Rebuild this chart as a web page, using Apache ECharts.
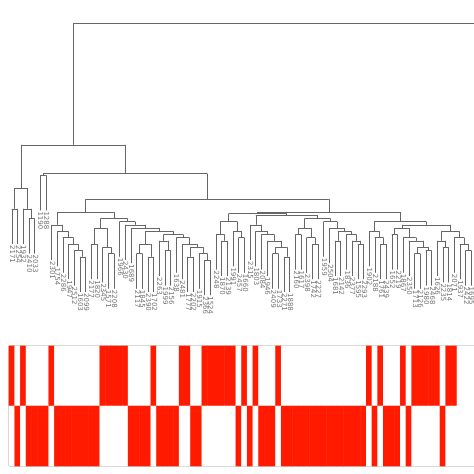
<!DOCTYPE html>
<html><head><meta charset="utf-8">
<script src="https://cdn.jsdelivr.net/npm/echarts@6/dist/echarts.min.js"></script>
<style>html,body{margin:0;padding:0;background:#fff}#c{width:474px;height:474px}</style>
</head><body><div id="c"></div>
<script>
// Binary heat strips (one value per leaf column)
const rowTop = [1,0,1,0,0,0,0,1,0,0,0,0,0,0,0,0,1,1,1,1,1,0,0,0,0,1,0,0,0,0,1,1,0,0,1,1,1,1,1,1,0,1,0,1,0,0,0,1,0,0,0,0,0,0,0,0,0,0,0,0,0,0,0,1,0,1,0,0,0,1,0,1,1,1,1,1,0,1,1,0,0,0];
const rowBottom = [0,1,0,1,1,1,1,0,1,1,1,1,1,1,1,1,0,0,0,0,0,1,1,1,1,0,1,1,1,1,0,0,1,1,0,0,0,0,0,0,1,0,1,0,1,1,1,0,1,1,1,1,1,1,1,1,1,1,1,1,1,1,1,0,1,0,1,1,1,0,1,0,0,0,0,0,1,0,0,0,0,0];
const leafNames = ["2171","2254","1932","2410","2033","1190","1288","2301","1754","2286","1947","2512","1603","2099","2177","1820","2345","1571","2208","1966","2430","1689","2117","1845","2390","1702","2263","1999","2156","1638","2481","1777","2202","1915","2366","1524","2248","1870","2139","1991","2457","1660","2315","1803","2084","1946","2409","1733","2271","1888","2160","1617","2398","1742","2227","1959","2504","1681","2142","1836","2377","1595","2293","1902","2188","1761","2439","1652","2219","1867","2350","1713","2126","1980","2468","1626","2235","1814","2071","1937","2422","1695"];
const L = 0;
const tree = [99,
  [61,
    [47.5,[41,L,L],[41,L,[38,L,L]]],
    [52,[51.5,L,L],
      [44,
        [40,[36,L,[34,L,[32,L,[30,L,[28,L,[26,L,L]]]]]],
            [38,[35,[30,L,L],[29,L,[27,L,L]]],
                [37,L,[36,L,[35,L,[34,[30,[27,L,L],[26,L,L]],[33,[31,L,[28,L,L]],[32,L,[30,L,[29,[26,L,L],[27,L,[25,L,L]]]]]]]]]]]],
        [40,
            [39.5,[37,[33,L,[31,L,L]],[34,L,[32,L,L]]],
              [39,[36,L,[34,L,[33,L,[31,L,[29,[27,L,L],[26,L,L]]]]]],
                  [38,[35,[33,L,L],[32,L,[30,L,L]]],[37,L,[35,L,[34,[31,L,L],[33,L,[31,L,[30,L,L]]]]]]]]],
            [37,[34,L,[32,L,[30,L,L]]],
                [36,[35,[33,L,L],[32,L,[31,L,[29,[27,L,L],[28,L,L]]]]],
                    [34,[31,L,[29,L,L]],[32,L,[30,L,[28,L,L]]]]]]]
      ]
    ]
  ],
  {x:150,h:60}
];
const HANG = 11;
let leafIdx = 0;
const segs = [], labels = [];
function layout(n){
  if(n===L) return {x:leafIdx++, leaf:true};
  if(n.x!==undefined) return n;
  const h=n[0], a=layout(n[1]), b=layout(n[2]);
  [a,b].forEach(c=>{
    const end = c.leaf ? h-HANG : c.h;
    segs.push({coords:[[c.x,h],[c.x,end]]});
    if(c.leaf) labels.push({value:[c.x,end],name:leafNames[c.x]||''});
  });
  segs.push({coords:[[a.x,h],[b.x,h]]});
  return {x:(a.x+b.x)/2,h:h};
}
layout(tree);
const heat=[];
rowTop.forEach((v,i)=>heat.push([i,1,v]));
rowBottom.forEach((v,i)=>heat.push([i,0,v]));
const chart = echarts.init(document.getElementById('c'));
chart.setOption({
  animation:false,
  grid:[{left:9,right:0,top:0,height:340},{left:9,right:-2,top:346,height:120,show:true,borderColor:'#999',borderWidth:1}],
  xAxis:[{type:'value',min:-0.5,max:81.5,show:false,gridIndex:0},
         {type:'category',data:rowTop.map((v,i)=>i),show:false,gridIndex:1}],
  yAxis:[{type:'value',min:0,max:106.25,show:false,gridIndex:0},
         {type:'category',data:['b','t'],show:false,gridIndex:1}],
  visualMap:{show:false,type:'piecewise',seriesIndex:2,pieces:[{value:1,color:'#ff1a00'},{value:0,color:'#ffffff'}]},
  series:[
    {type:'lines',coordinateSystem:'cartesian2d',xAxisIndex:0,yAxisIndex:0,data:segs,
     lineStyle:{color:'#666',width:1,opacity:1},silent:true,clip:true},
    {type:'scatter',xAxisIndex:0,yAxisIndex:0,data:labels,symbolSize:0,
     label:{show:true,formatter:p=>p.name,rotate:-90,position:'bottom',distance:1,fontSize:7,color:'#555',fontFamily:'DejaVu Sans',align:'left',verticalAlign:'middle'}},
    {type:'heatmap',xAxisIndex:1,yAxisIndex:1,data:heat}
  ]
});
</script></body></html>
